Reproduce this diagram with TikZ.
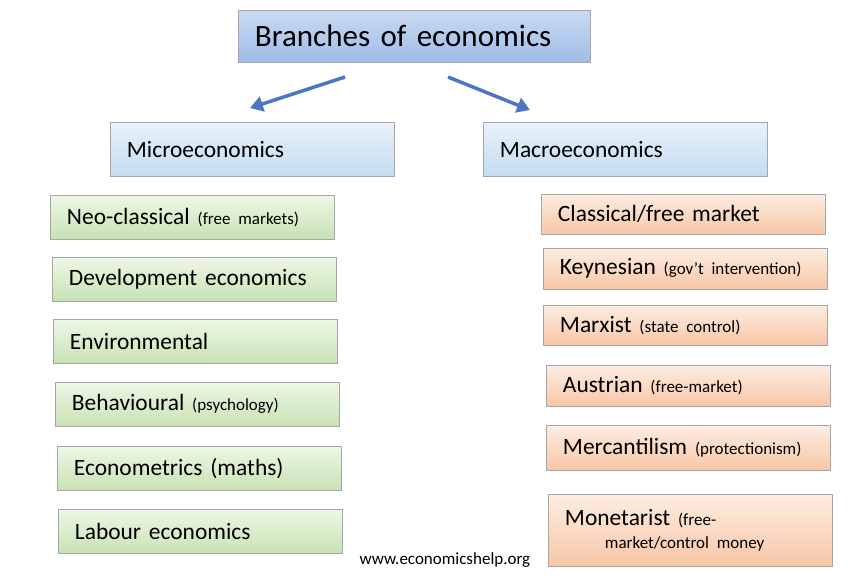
\documentclass[tikz,border=0pt]{standalone}
\usepackage{fontspec}
\setmainfont[WordSpace={0.7}]{Carlito}
\usetikzlibrary{arrows.meta,positioning}
\newcommand\sm{\fontsize{14.5}{16}\selectfont}
\definecolor{titletop}{HTML}{C9DAF2}
\definecolor{titlebot}{HTML}{9FBCE6}
\definecolor{headtop}{HTML}{E9F1FA}
\definecolor{headbot}{HTML}{C4DCF0}
\definecolor{greentop}{HTML}{EEF7E6}
\definecolor{greenbot}{HTML}{C7E2B4}
\definecolor{orangetop}{HTML}{FDEDE2}
\definecolor{orangebot}{HTML}{F7C6A6}
\definecolor{arrowblue}{HTML}{4A76C4}
\begin{document}
\begin{tikzpicture}[x=0.03cm,y=-0.03cm]

    % Define block styles
    \tikzset{
        box/.style={rectangle, draw=gray!70, line width=0.5pt, anchor=north west,
            minimum width=8.52cm, text width=7.52cm, align=left, inner xsep=0.5cm,
            font=\fontsize{20}{22}\selectfont},
        title/.style={box, top color=titletop, bottom color=titlebot,
            minimum width=10.56cm, text width=9.56cm, minimum height=1.56cm,
            font=\fontsize{26.5}{29}\selectfont},
        head/.style={box, top color=headtop, bottom color=headbot, minimum height=1.62cm},
        micro/.style={box, top color=greentop, bottom color=greenbot, minimum height=1.32cm},
        macro/.style={box, top color=orangetop, bottom color=orangebot, minimum height=1.2cm},
        line/.style={draw=arrowblue, line width=3pt, -{Triangle[length=11pt,width=13pt]}}
    }
    \useasboundingbox (0,0) rectangle (851,576);

    % Place nodes
    \node [title] (branches) at (238,10) {Branches of economics};
    \node [head] (micro) at (110,122) {Microeconomics};
    \node [head] (macro) at (483,122) {Macroeconomics};

    \node [micro] (neo) at (50,195) {Neo-classical {\sm (free markets)}};
    \node [micro] (dev) at (52,257) {Development economics};
    \node [micro] (env) at (53,319) {Environmental};
    \node [micro] (beh) at (55,382) {Behavioural {\sm (psychology)}};
    \node [micro] (ecm) at (57,446) {Econometrics (maths)};
    \node [micro] (lab) at (58,509) {Labour economics};

    \node [macro] (cla) at (541,194) {Classical/free market};
    \node [macro, minimum height=1.23cm] (key) at (543,248) {Keynesian {\sm (gov’t intervention)}};
    \node [macro] (mar) at (543,305) {Marxist {\sm (state control)}};
    \node [macro, minimum height=1.23cm] (aus) at (546,365) {Austrian {\sm (free-market)}};
    \node [macro, minimum height=1.35cm] (mer) at (546,425) {Mercantilism {\sm (protectionism)}};
    \node [macro, minimum height=2.16cm] (mon) at (548,494)
        {Monetarist {\sm (free-}\\[-2pt] \hspace*{1.2cm}{\sm market/control money}};

    \node [font=\sm] (web) at (445,560) {www.economicshelp.org};

    % Draw edges
    \coordinate (l1) at (345,77);
    \coordinate (l2) at (250,108);
    \coordinate (r1) at (448,77);
    \coordinate (r2) at (530,110);
    \path [line] (l1) -- (l2);
    \path [line] (r1) -- (r2);

\end{tikzpicture}
\end{document}
